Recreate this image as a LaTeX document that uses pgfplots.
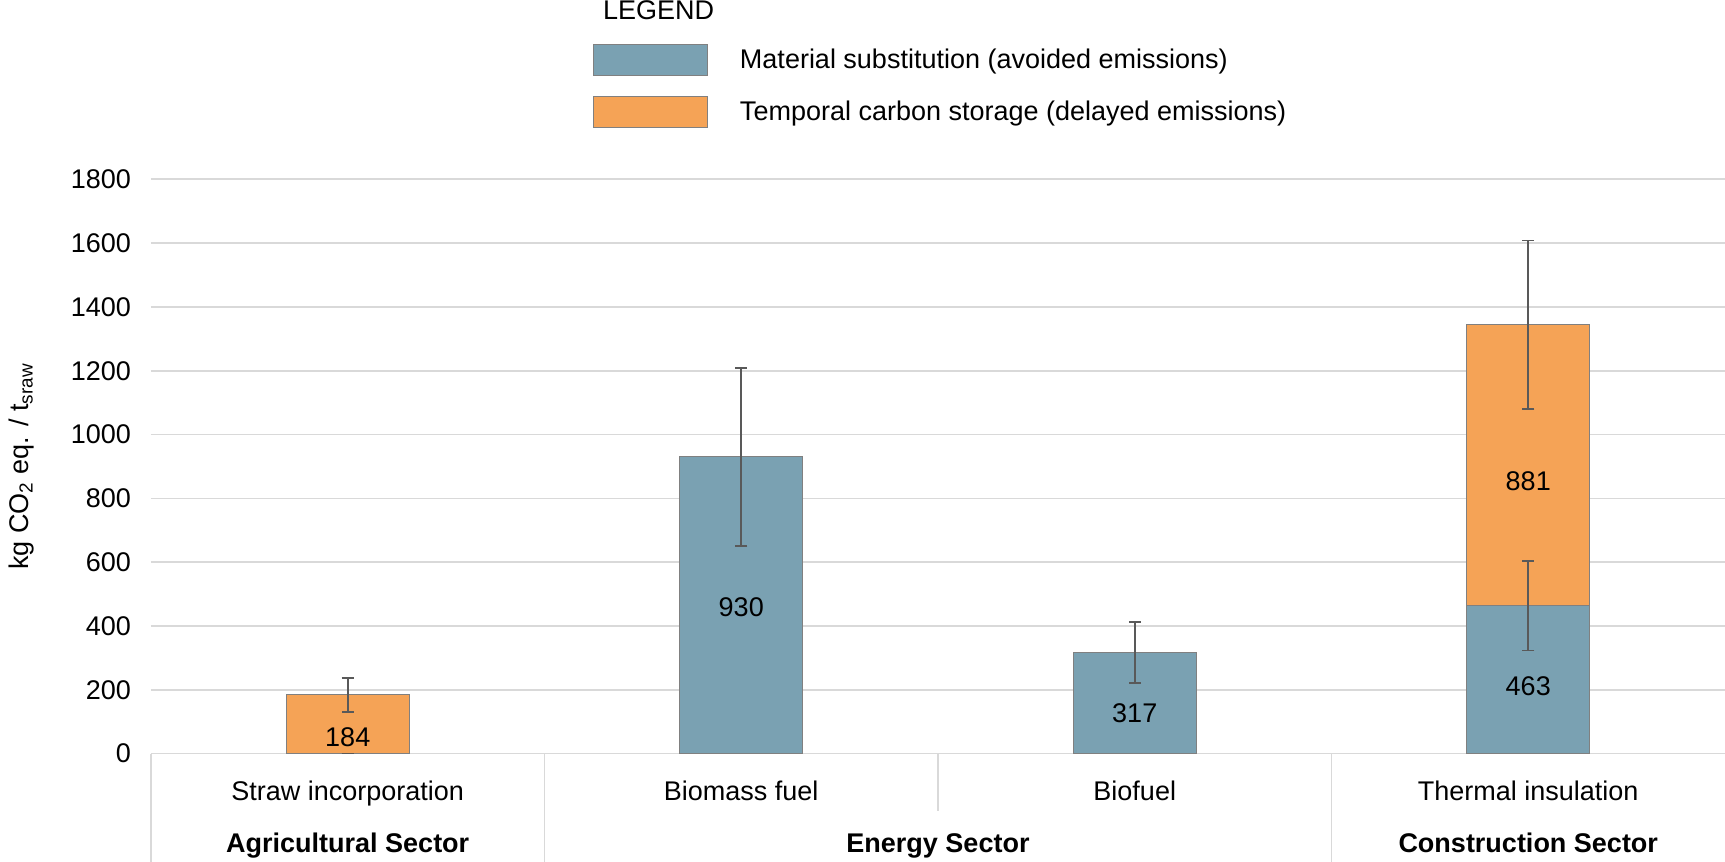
\documentclass[border=0pt]{standalone}
\usepackage{pgfplots}
\pgfplotsset{compat=1.18}
\usepackage{pgfplotstable}
\usepackage{fontspec}
\setmainfont{Liberation Sans}
\definecolor{barblue}{HTML}{7AA1B2}
\definecolor{barorange}{HTML}{F5A356}
\definecolor{gridgray}{HTML}{D9D9D9}
\definecolor{errgray}{HTML}{595959}
\definecolor{edgegray}{HTML}{808080}

% *off = small downward offset (pt) of the value label from the segment centre
\pgfplotstableread{
x blue blueerr bluelab blueoff orange orangeerr orangelab orangeoff
0 0 0 {} 0 184 53 184 6.5
1 930 279 930 1.0 0 0 {} 0
2 317 95 317 5.2 0 0 {} 0
3 463 140 463 3.0 881 264 881 8.0
}\datatable

\begin{document}
\begin{tikzpicture}[font=\fontsize{13.5pt}{16pt}\selectfont]
\begin{axis}[
  name=ax,
  scale only axis,
  width=787pt, height=287.15pt,
  xmin=-0.5, xmax=3.5,
  ymin=0, ymax=1800,
  ytick={0,200,...,1800},
  xtick={0,1,2,3},
  xticklabels={Straw incorporation, Biomass fuel, Biofuel, Thermal insulation},
  ymajorgrids,
  grid style={gridgray, line width=0.8pt},
  axis line style={draw=none},
  major tick length=0pt,
  tick style={draw=none},
  /pgf/number format/assume math mode=true,
  /pgf/number format/set thousands separator={},
  yticklabel style={anchor=east, xshift=-6.5pt},
  xticklabel style={anchor=base, yshift=-23.2pt},
  ylabel={kg CO\textsubscript{2} eq. / t\textsubscript{sraw}},
  every axis y label/.style={at={(axis description cs:-0.078,0.5)}, rotate=90, anchor=base},
  ybar stacked,
  bar width=0.3136,
  clip=false,
  point meta=explicit symbolic,
  nodes near coords,
  every node near coord/.append style={anchor=center, text=black, yshift={-\laboff pt}},
  legend style={at={(axis description cs:0.2808,1.2351)}, anchor=north west, draw=none, fill=none,
    inner sep=0pt, outer sep=0pt, row sep=10pt, nodes={inner sep=0pt},
    /tikz/every odd column/.append style={column sep=16pt}},
  legend cell align=left,
]
\addplot[fill=barblue, draw=edgegray, line width=0.5pt,
  visualization depends on=\thisrow{blueoff}\as\laboff,
  legend image code/.code={\draw[fill=barblue, draw=edgegray, line width=0.5pt] (0pt,-7.7pt) rectangle (57pt,7.7pt);},
  error bars/.cd, y dir=both, y explicit,
  error bar style={line width=0.8pt, errgray},
  error mark options={rotate=90, mark size=3pt, line width=0.8pt, errgray}]
  table[x=x, y=blue, y error=blueerr, meta=bluelab] \datatable;
\addlegendentry{Material substitution (avoided emissions)}
\addplot[fill=barorange, draw=edgegray, line width=0.5pt,
  visualization depends on=\thisrow{orangeoff}\as\laboff,
  legend image code/.code={\draw[fill=barorange, draw=edgegray, line width=0.5pt] (0pt,-7.7pt) rectangle (57pt,7.7pt);},
  error bars/.cd, y dir=both, y explicit,
  error bar style={line width=0.8pt, errgray},
  error mark options={rotate=90, mark size=3pt, line width=0.8pt, errgray}]
  table[x=x, y=orange, y error=orangeerr, meta=orangelab] \datatable;
\addlegendentry{Temporal carbon storage (delayed emissions)}

\node[anchor=base west] at (axis description cs:0.2827,1.2783) {LEGEND};
\draw[gridgray, line width=0.8pt] (axis cs:-0.5,0) -- ([yshift=-54.2pt]axis cs:-0.5,0);
\draw[gridgray, line width=0.8pt] (axis cs:0.5,0) -- ([yshift=-54.2pt]axis cs:0.5,0);
\draw[gridgray, line width=0.8pt] (axis cs:1.5,0) -- ([yshift=-28.7pt]axis cs:1.5,0);
\draw[gridgray, line width=0.8pt] (axis cs:2.5,0) -- ([yshift=-54.2pt]axis cs:2.5,0);
\node[anchor=base, yshift=-49.2pt] at (axis cs:0,0) {\textbf{Agricultural Sector}};
\node[anchor=base, yshift=-49.2pt] at (axis cs:1.5,0) {\textbf{Energy Sector}};
\node[anchor=base, yshift=-49.2pt] at (axis cs:3,0) {\textbf{Construction Sector}};
\end{axis}
\pgfresetboundingbox
\path[use as bounding box] ([xshift=-75.5pt, yshift=-54.2pt]ax.south west) rectangle ([yshift=89.65pt]ax.north east);
\end{tikzpicture}
\end{document}
